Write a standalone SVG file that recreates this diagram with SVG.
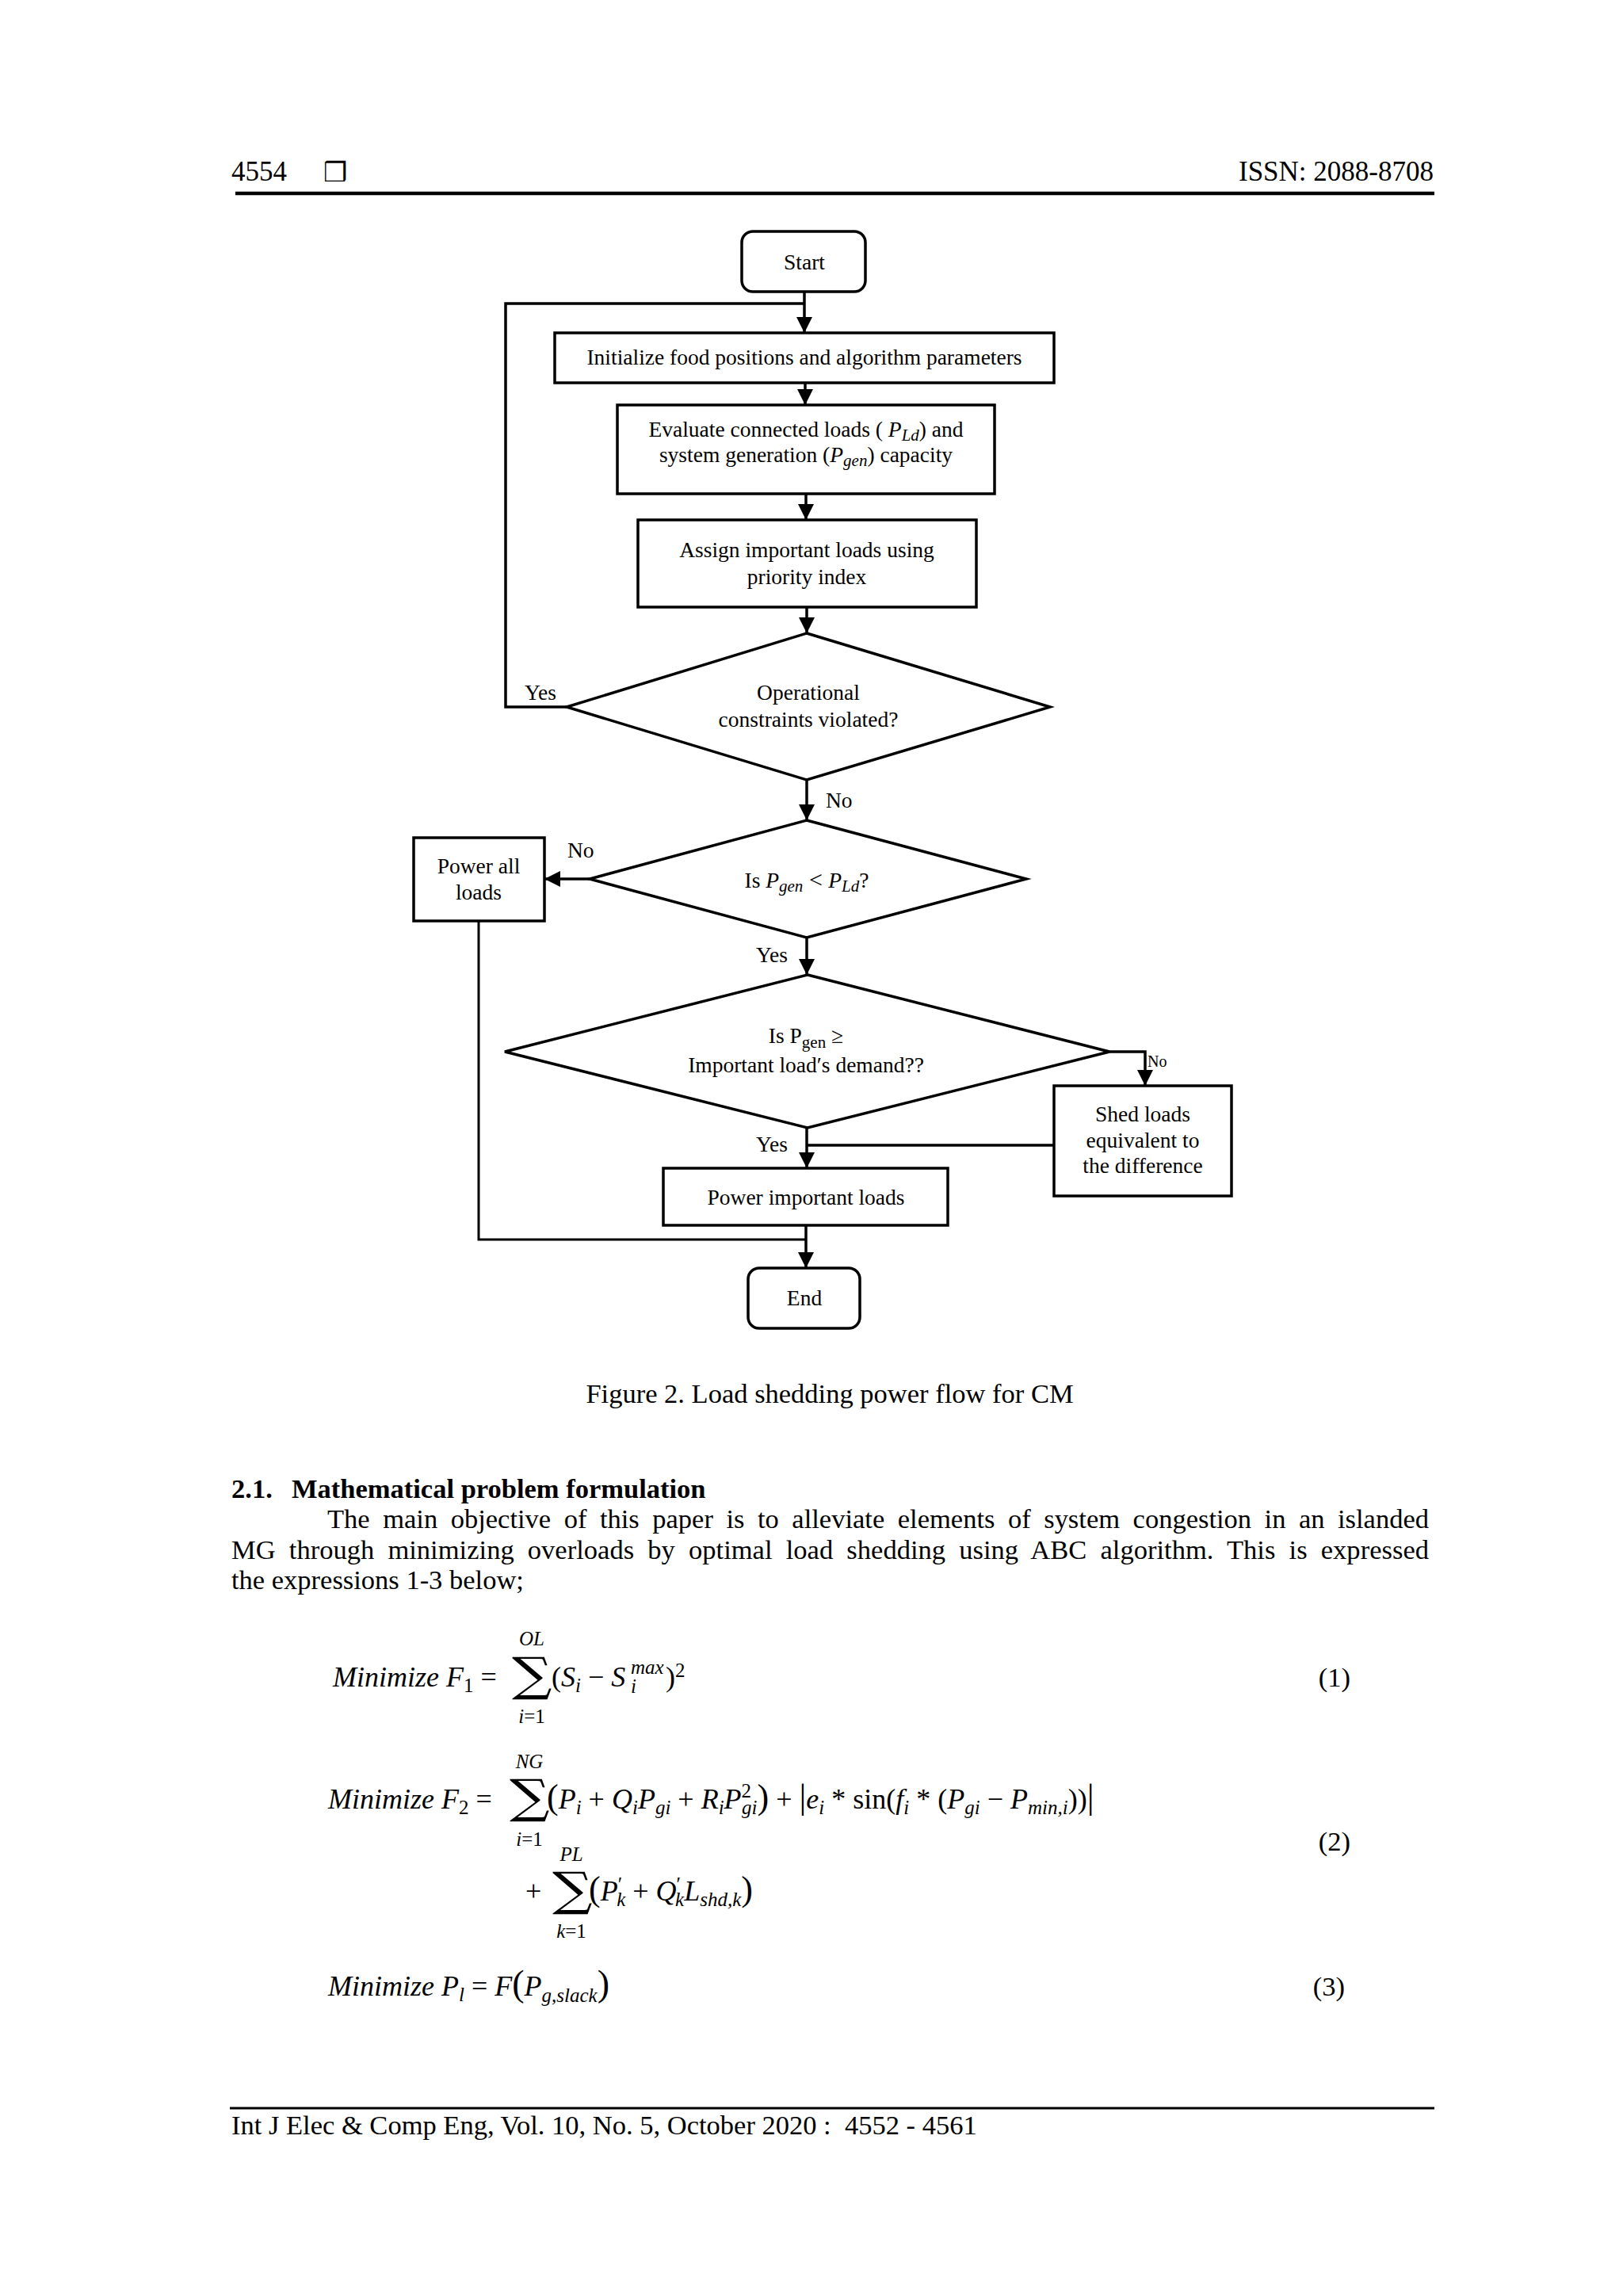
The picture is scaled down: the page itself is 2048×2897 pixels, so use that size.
<svg xmlns="http://www.w3.org/2000/svg" width="2048" height="2897" viewBox="0 0 2048 2897">
<style>
text{font-family:"Liberation Serif","Times New Roman",serif;fill:#000}
.pg{font-size:34.5px}
.hd{font-size:35px}
.d{font-size:27.5px;text-anchor:middle}
.lbl{font-size:27.5px}
.m{font-style:italic;font-size:36px}
.s{font-size:25px}
.u{font-style:normal}
.sig{font-family:"DejaVu Serif","Liberation Serif",serif;font-style:normal;font-size:59px}
.node{fill:#fff;stroke:#000;stroke-width:3.5}
.conn{fill:none;stroke:#000;stroke-width:3.5}
</style>
<defs>
<marker id="ah" viewBox="0 0 20 20" markerWidth="20" markerHeight="20" refX="20" refY="10" orient="auto" markerUnits="userSpaceOnUse">
<path d="M0,0 L20,10 L0,20 z" fill="#000"/>
</marker>
</defs>
<rect width="2048" height="2897" fill="#fff"/>

<g id="header">
<text class="hd" x="292" y="228">4554</text>
<text x="408" y="229" style="font-family:'DejaVu Sans',sans-serif;font-size:34px">❒</text>
<text class="hd" x="1809" y="228" text-anchor="end">ISSN: 2088-8708</text>
<line x1="297" y1="244" x2="1810" y2="244" stroke="#000" stroke-width="4.5"/>
</g>

<g id="connectors">
<line class="conn" x1="1015" y1="368" x2="1015" y2="420" marker-end="url(#ah)"/>
<path class="conn" d="M715,892 H638 V383 H1015"/>
<line class="conn" x1="1016" y1="483" x2="1016" y2="511" marker-end="url(#ah)"/>
<line class="conn" x1="1017" y1="623" x2="1017" y2="656" marker-end="url(#ah)"/>
<line class="conn" x1="1018" y1="766" x2="1018" y2="799" marker-end="url(#ah)"/>
<line class="conn" x1="1018" y1="984" x2="1018" y2="1035" marker-end="url(#ah)"/>
<line class="conn" x1="744" y1="1109" x2="687" y2="1109" marker-end="url(#ah)"/>
<line class="conn" x1="1018" y1="1183" x2="1018" y2="1230" marker-end="url(#ah)"/>
<path class="conn" d="M1400,1327 H1445 V1370" marker-end="url(#ah)"/>
<path class="conn" d="M1330,1445 H1018"/>
<line class="conn" x1="1018" y1="1423" x2="1018" y2="1474" marker-end="url(#ah)"/>
<path class="conn" d="M604,1162 V1564 H1017" style="stroke-width:3"/>
<line class="conn" x1="1017" y1="1546" x2="1017" y2="1600" marker-end="url(#ah)"/>
<text class="lbl" x="662" y="883">Yes</text>
<text class="lbl" x="1042" y="1019">No</text>
<text class="lbl" x="716" y="1082">No</text>
<text class="lbl" x="954" y="1214">Yes</text>
<text x="1448" y="1346" style="font-size:20px">No</text>
<text class="lbl" x="954" y="1453">Yes</text>
</g>

<g id="start">
<rect class="node" x="936" y="292" width="156" height="76" rx="14"/>
<text class="d" x="1015" y="340">Start</text>
</g>
<g id="init">
<rect class="node" x="700" y="420" width="630" height="63"/>
<text class="d" x="1015" y="460">Initialize food positions and algorithm parameters</text>
</g>
<g id="evaluate">
<rect class="node" x="779" y="511" width="476" height="112"/>
<text class="d" x="1017" y="551">Evaluate connected loads ( <tspan font-style="italic">P</tspan><tspan font-style="italic" font-size="21" dy="5">Ld</tspan><tspan dy="-5">) and</tspan></text>
<text class="d" x="1017" y="583">system generation (<tspan font-style="italic">P</tspan><tspan font-style="italic" font-size="21" dy="5">gen</tspan><tspan dy="-5">) capacity</tspan></text>
</g>
<g id="assign">
<rect class="node" x="805" y="656" width="427" height="110"/>
<text class="d" x="1018" y="703">Assign important loads using</text>
<text class="d" x="1018" y="737">priority index</text>
</g>
<g id="decision1">
<polygon class="node" points="1018,799 1325,892 1018,984 715,892"/>
<text class="d" x="1020" y="883">Operational</text>
<text class="d" x="1020" y="917">constraints violated?</text>
</g>
<g id="decision2">
<polygon class="node" points="1018,1035 1295,1109 1018,1183 744,1109"/>
<text class="d" x="1018" y="1120">Is <tspan font-style="italic">P</tspan><tspan font-style="italic" font-size="21" dy="5">gen</tspan><tspan dy="-5" font-size="30"> &lt; </tspan><tspan font-style="italic">P</tspan><tspan font-style="italic" font-size="21" dy="5">Ld</tspan><tspan dy="-5">?</tspan></text>
</g>
<g id="powerall">
<rect class="node" x="522" y="1057" width="165" height="105"/>
<text class="d" x="604" y="1102">Power all</text>
<text class="d" x="604" y="1135">loads</text>
</g>
<g id="decision3">
<polygon class="node" points="1019,1230 1400,1327 1019,1423 637,1327"/>
<text class="d" x="1017" y="1316">Is  P<tspan font-size="21" dy="6">gen</tspan><tspan dy="-6"> ≥</tspan></text>
<text class="d" x="1017" y="1353">Important load′s demand??</text>
</g>
<g id="shed">
<rect class="node" x="1330" y="1370" width="224" height="139"/>
<text class="d" x="1442" y="1415">Shed loads</text>
<text class="d" x="1442" y="1448">equivalent to</text>
<text class="d" x="1442" y="1480">the difference</text>
</g>
<g id="powerimportant">
<rect class="node" x="837" y="1474" width="359" height="72"/>
<text class="d" x="1017" y="1520">Power important loads</text>
</g>
<g id="end">
<rect class="node" x="944" y="1600" width="141" height="76" rx="14"/>
<text class="d" x="1015" y="1647">End</text>
</g>

<g id="body">
<text class="pg" x="1047" y="1770" text-anchor="middle">Figure 2. Load shedding power flow for CM</text>
<text class="pg" x="292" y="1890" font-weight="bold">2.1.</text>
<text class="pg" x="368" y="1890" font-weight="bold">Mathematical problem formulation</text>
<text class="pg" x="413" y="1928" word-spacing="7.9" textLength="1390" lengthAdjust="spacing">The main objective of this paper is to alleviate elements of system congestion in an islanded</text>
<text class="pg" x="292" y="1967" word-spacing="8.5" textLength="1511" lengthAdjust="spacing">MG through minimizing overloads by optimal load shedding using ABC algorithm. This is expressed</text>
<text class="pg" x="292" y="2005">the expressions 1-3 below;</text>
</g>

<g id="eq1">
<text class="m" x="420" y="2128">Minimize F<tspan class="s u" dy="7">1</tspan><tspan class="u" dy="-7"> =</tspan></text>
<text class="sig" transform="translate(646,2133) scale(1.2,1)">∑</text>
<text class="m s" x="671" y="2076" text-anchor="middle">OL</text>
<text class="m s" x="671" y="2174" text-anchor="middle">i<tspan class="u">=1</tspan></text>
<text class="m" x="696" y="2128"><tspan class="u">(</tspan>S<tspan class="s" dy="7">i</tspan><tspan class="u" dy="-7"> − </tspan>S</text>
<text class="m s" x="796" y="2112">max</text>
<text class="m s" x="796" y="2136">i</text>
<text class="m" x="840" y="2128"><tspan class="u">)</tspan><tspan class="s u" dy="-12">2</tspan></text>
<text class="pg" x="1704" y="2128" text-anchor="end">(1)</text>
</g>

<g id="eq2">
<text class="m" x="414" y="2282">Minimize F<tspan class="s u" dy="7">2</tspan><tspan class="u" dy="-7"> =</tspan></text>
<text class="sig" transform="translate(643,2287) scale(1.2,1)">∑</text>
<text class="m s" x="668" y="2231" text-anchor="middle">NG</text>
<text class="m s" x="668" y="2329" text-anchor="middle">i<tspan class="u">=1</tspan></text>
<text class="m" x="690" y="2282"><tspan class="u" font-size="44">(</tspan>P<tspan class="s" dy="7">i</tspan><tspan class="u" dy="-7"> + </tspan>Q<tspan class="s" dy="7">i</tspan><tspan dy="-7">P</tspan><tspan class="s" dy="7">gi</tspan><tspan class="u" dy="-7"> + </tspan>R<tspan class="s" dy="7">i</tspan><tspan dy="-7">P</tspan><tspan class="s u" dy="-14">2</tspan><tspan class="s" dx="-12" dy="21">gi</tspan><tspan class="u" font-size="44" dy="-7">)</tspan><tspan class="u"> + </tspan><tspan class="u" font-size="44">|</tspan>e<tspan class="s" dy="7">i</tspan><tspan class="u" dy="-7"> * sin(</tspan>f<tspan class="s" dy="7">i</tspan><tspan class="u" dy="-7"> * (</tspan>P<tspan class="s" dy="7">gi</tspan><tspan class="u" dy="-7"> − </tspan>P<tspan class="s" dy="7">min,i</tspan><tspan class="u" dy="-7">))</tspan><tspan class="u" font-size="44">|</tspan></text>
<text class="m u" x="663" y="2398">+</text>
<text class="sig" transform="translate(697,2404) scale(1.2,1)">∑</text>
<text class="m s" x="721" y="2348" text-anchor="middle">PL</text>
<text class="m s" x="721" y="2445" text-anchor="middle">k<tspan class="u">=1</tspan></text>
<text class="m" x="743" y="2398"><tspan class="u" font-size="44">(</tspan>P<tspan class="s u" dy="-12">′</tspan><tspan class="s" dx="-7" dy="19">k</tspan><tspan class="u" dy="-7"> + </tspan>Q<tspan class="s u" dy="-12">′</tspan><tspan class="s" dx="-7" dy="19">k</tspan><tspan dy="-7">L</tspan><tspan class="s" dy="7">shd,k</tspan><tspan class="u" font-size="44" dy="-7">)</tspan></text>
<text class="pg" x="1704" y="2335" text-anchor="end">(2)</text>
</g>

<g id="eq3">
<text class="m" x="414" y="2518">Minimize P<tspan class="s" dy="7">l</tspan><tspan class="u" dy="-7"> = </tspan>F<tspan class="u" font-size="46">(</tspan>P<tspan class="s" dy="8">g,slack</tspan><tspan class="u" font-size="46" dy="-8">)</tspan></text>
<text class="pg" x="1697" y="2518" text-anchor="end">(3)</text>
</g>

<g id="footer">
<line x1="290" y1="2660" x2="1810" y2="2660" stroke="#000" stroke-width="3"/>
<text class="pg" x="292" y="2693" xml:space="preserve">Int J Elec &amp; Comp Eng, Vol. 10, No. 5, October 2020 :  4552 - 4561</text>
</g>
</svg>
